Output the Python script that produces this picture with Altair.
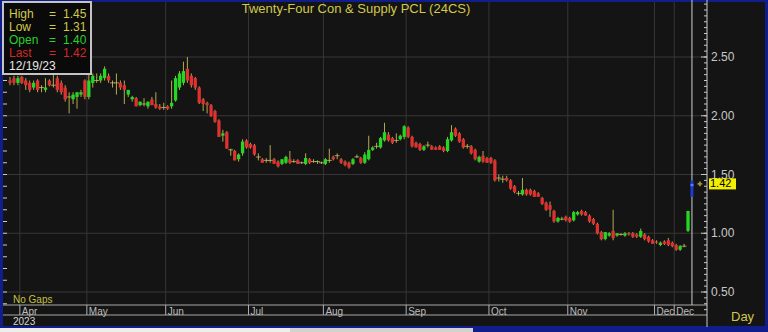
import altair as alt
import pandas as pd

# ---------------- data ----------------
opens = [2.30, 2.32, 2.28, 2.33, 2.30, 2.28, 2.24, 2.30, 2.24, 2.22,
         2.30, 2.26, 2.32, 2.28, 2.24, 2.16, 2.14, 2.16, 2.18, 2.30,
         2.16, 2.28, 2.30, 2.30, 2.32, 2.34, 2.28, 2.28, 2.28, 2.26,
         2.18, 2.14, 2.15, 2.09, 2.10, 2.08, 2.14, 2.10, 2.08, 2.07,
         2.08, 2.08, 2.13, 2.24, 2.28, 2.40, 2.34, 2.32, 2.24, 2.14,
         2.11, 2.09, 2.04, 1.96, 1.83, 1.86, 1.71, 1.70, 1.63, 1.68,
         1.79, 1.76, 1.75, 1.65, 1.63, 1.62, 1.62, 1.63, 1.61, 1.59,
         1.60, 1.63, 1.61, 1.62, 1.60, 1.59, 1.63, 1.61, 1.61, 1.60,
         1.59, 1.62, 1.65, 1.66, 1.63, 1.61, 1.60, 1.59, 1.65, 1.64,
         1.60, 1.63, 1.71, 1.74, 1.73, 1.79, 1.84, 1.81, 1.79, 1.80,
         1.82, 1.90, 1.82, 1.77, 1.76, 1.71, 1.75, 1.74, 1.73, 1.74,
         1.73, 1.70, 1.79, 1.89, 1.85, 1.80, 1.74, 1.74, 1.71, 1.61,
         1.66, 1.64, 1.64, 1.62, 1.47, 1.46, 1.47, 1.45, 1.40, 1.34,
         1.33, 1.37, 1.37, 1.36, 1.34, 1.30, 1.26, 1.24, 1.19, 1.10,
         1.12, 1.14, 1.13, 1.11, 1.16, 1.19, 1.18, 1.15, 1.12, 1.08,
         1.01, 0.95, 0.98, 1.02, 0.98, 0.99, 0.98, 1.00, 1.00, 0.99,
         0.97, 0.99, 0.97, 0.94, 0.93, 0.90, 0.93, 0.94, 0.92, 0.90,
         0.86, 0.89, 1.02, 1.40]
highs = [2.33, 2.34, 2.34, 2.34, 2.32, 2.30, 2.30, 2.31, 2.26, 2.32,
         2.31, 2.38, 2.34, 2.30, 2.26, 2.20, 2.20, 2.20, 2.22, 2.31,
         2.40, 2.36, 2.36, 2.36, 2.42, 2.36, 2.30, 2.36, 2.30, 2.30,
         2.22, 2.17, 2.16, 2.12, 2.15, 2.12, 2.16, 2.20, 2.10, 2.11,
         2.09, 2.30, 2.34, 2.38, 2.46, 2.50, 2.36, 2.33, 2.25, 2.15,
         2.12, 2.10, 2.05, 1.97, 1.88, 1.87, 1.72, 1.71, 1.68, 1.80,
         1.80, 1.77, 1.76, 1.68, 1.64, 1.64, 1.75, 1.64, 1.62, 1.63,
         1.66, 1.70, 1.63, 1.63, 1.61, 1.68, 1.64, 1.63, 1.62, 1.61,
         1.64, 1.72, 1.66, 1.68, 1.64, 1.62, 1.61, 1.64, 1.67, 1.65,
         1.69, 1.83, 1.74, 1.77, 1.82, 1.94, 1.86, 1.82, 1.85, 1.84,
         1.92, 1.91, 1.83, 1.78, 1.77, 1.75, 1.78, 1.75, 1.74, 1.75,
         1.74, 1.82, 1.92, 1.90, 1.86, 1.81, 1.76, 1.75, 1.72, 1.66,
         1.70, 1.65, 1.65, 1.63, 1.50, 1.49, 1.49, 1.46, 1.41, 1.36,
         1.47, 1.38, 1.38, 1.37, 1.35, 1.31, 1.27, 1.27, 1.20, 1.14,
         1.14, 1.15, 1.14, 1.19, 1.19, 1.20, 1.19, 1.16, 1.13, 1.09,
         1.02, 1.01, 1.01, 1.20, 1.00, 1.00, 1.01, 1.01, 1.01, 1.00,
         1.04, 1.00, 0.98, 0.95, 0.94, 0.93, 0.94, 0.96, 0.93, 0.91,
         0.90, 0.91, 1.19, 1.45]
lows = [2.26, 2.26, 2.26, 2.27, 2.22, 2.20, 2.22, 2.20, 2.20, 2.20,
        2.25, 2.24, 2.20, 2.18, 2.12, 2.02, 2.10, 2.06, 2.16, 2.14,
        2.14, 2.24, 2.28, 2.28, 2.30, 2.28, 2.24, 2.18, 2.22, 2.10,
        2.16, 2.12, 2.08, 2.08, 2.08, 2.06, 2.09, 2.06, 2.05, 2.05,
        2.05, 2.06, 2.12, 2.22, 2.26, 2.28, 2.24, 2.22, 2.10, 2.04,
        2.02, 1.99, 1.94, 1.82, 1.78, 1.72, 1.66, 1.62, 1.61, 1.66,
        1.72, 1.72, 1.66, 1.62, 1.60, 1.60, 1.60, 1.59, 1.56, 1.58,
        1.59, 1.59, 1.60, 1.59, 1.59, 1.58, 1.59, 1.60, 1.59, 1.59,
        1.58, 1.60, 1.62, 1.63, 1.59, 1.57, 1.55, 1.58, 1.64, 1.59,
        1.59, 1.62, 1.70, 1.72, 1.72, 1.78, 1.78, 1.76, 1.77, 1.79,
        1.80, 1.81, 1.73, 1.73, 1.70, 1.70, 1.73, 1.71, 1.71, 1.71,
        1.69, 1.69, 1.78, 1.82, 1.77, 1.72, 1.72, 1.67, 1.62, 1.60,
        1.60, 1.60, 1.59, 1.44, 1.44, 1.43, 1.44, 1.37, 1.34, 1.32,
        1.32, 1.32, 1.32, 1.31, 1.31, 1.24, 1.19, 1.14, 1.09, 1.09,
        1.11, 1.10, 1.09, 1.10, 1.15, 1.15, 1.15, 1.09, 1.07, 0.99,
        0.94, 0.94, 0.97, 0.94, 0.97, 0.98, 0.97, 0.98, 0.96, 0.96,
        0.96, 0.94, 0.92, 0.91, 0.91, 0.89, 0.90, 0.89, 0.88, 0.85,
        0.85, 0.88, 1.01, 1.31]
closes = [2.28, 2.28, 2.32, 2.28, 2.26, 2.22, 2.28, 2.22, 2.24, 2.24,
          2.26, 2.26, 2.22, 2.20, 2.14, 2.16, 2.18, 2.20, 2.20, 2.16,
          2.30, 2.34, 2.30, 2.34, 2.40, 2.30, 2.28, 2.28, 2.24, 2.22,
          2.22, 2.16, 2.08, 2.12, 2.10, 2.12, 2.09, 2.07, 2.06, 2.07,
          2.06, 2.11, 2.32, 2.36, 2.38, 2.30, 2.26, 2.24, 2.11, 2.10,
          2.09, 2.00, 1.95, 1.82, 1.85, 1.72, 1.71, 1.62, 1.67, 1.78,
          1.73, 1.73, 1.67, 1.65, 1.60, 1.62, 1.62, 1.59, 1.57, 1.63,
          1.65, 1.60, 1.61, 1.59, 1.60, 1.64, 1.60, 1.61, 1.61, 1.60,
          1.63, 1.62, 1.63, 1.66, 1.60, 1.58, 1.56, 1.63, 1.65, 1.60,
          1.67, 1.71, 1.73, 1.74, 1.81, 1.86, 1.79, 1.77, 1.79, 1.83,
          1.91, 1.82, 1.74, 1.73, 1.71, 1.74, 1.75, 1.71, 1.71, 1.71,
          1.70, 1.80, 1.86, 1.83, 1.78, 1.73, 1.74, 1.68, 1.63, 1.65,
          1.61, 1.60, 1.60, 1.45, 1.47, 1.46, 1.45, 1.38, 1.35, 1.34,
          1.37, 1.33, 1.33, 1.31, 1.31, 1.25, 1.20, 1.20, 1.10, 1.13,
          1.12, 1.11, 1.10, 1.18, 1.18, 1.16, 1.15, 1.10, 1.08, 1.00,
          0.95, 1.01, 1.00, 0.96, 1.00, 0.99, 1.00, 0.99, 0.97, 0.97,
          1.02, 0.95, 0.93, 0.91, 0.92, 0.92, 0.91, 0.90, 0.89, 0.86,
          0.89, 0.89, 1.19, 1.42]

month_names = ["Apr", "May", "Jun", "Jul", "Aug", "Sep", "Oct", "Nov", "Dec", "Dec"]
month_first_bar = [3, 20, 40, 61, 80, 101, 122, 142, 164, 169]
price_ticks = [2.5, 2.0, 1.5, 1.0, 0.5]
price_tick_labels = ["2.50", "2.00", "1.50", "1.00", "0.50"]
last_date = "12/19/23"
year_label = "2023"
chart_title = "Twenty-Four Con & Supply PCL (24CS)"

# ---------------- scales / geometry ----------------
W, H = 768, 332
X0_PX, STEP_PX = 10.0, 3.942
XDOM = [(0 - X0_PX) / STEP_PX, (W - X0_PX) / STEP_PX]
Y_REF_PX, Y_REF_VAL, PX_PER_UNIT = 57.0, 2.5, 117.5
YDOM = [Y_REF_VAL - (H - Y_REF_PX) / PX_PER_UNIT, Y_REF_VAL + Y_REF_PX / PX_PER_UNIT]

xs = alt.Scale(domain=XDOM, nice=False, zero=False, padding=0)
ys = alt.Scale(domain=YDOM, nice=False, zero=False, padding=0)


def X(f):
    return alt.X(f, type="quantitative", scale=xs, axis=None)


def Y(f):
    return alt.Y(f, type="quantitative", scale=ys, axis=None)


def Y2(f):
    return alt.Y2(f)


FONT = "Liberation Sans"
BG = "#141414"
GRID = "#363636"
AXIS = "#c8c8c8"
KHAKI = "#d2c84a"
GREEN = "#22d822"
RED = "#e03030"
TAN = "#b4aa52"
DOJI = "#d6cc66"

n = len(closes)
df = pd.DataFrame({"i": list(range(n)), "open": opens, "high": highs,
                   "low": lows, "close": closes})
df["dir"] = ["up" if c > o else ("down" if c < o else "flat")
             for o, c in zip(df["open"], df["close"])]
main = df.iloc[:-1]
last = df.iloc[-1:].copy()
doji = main[main["dir"] == "flat"]

months = pd.DataFrame({"name": month_names, "first": month_first_bar})
pt = pd.DataFrame({"v": price_ticks, "lab": price_tick_labels})
minor = pd.DataFrame({"v": [round(0.35 + 0.05 * k, 2) for k in range(53)]})
leftt = pd.DataFrame({"v": [round(0.4 + 0.1 * k, 1) for k in range(26)]})
one = pd.DataFrame({"a": [0]})

layers = []

# frame / background panels
layers.append(alt.Chart(one).mark_rect(color=BG).encode(
    x=alt.value(3), x2=alt.value(765), y=alt.value(2), y2=alt.value(326)))
layers.append(alt.Chart(one).mark_rect(color="#eeeeee").encode(
    x=alt.value(0), x2=alt.value(290), y=alt.value(328), y2=alt.value(332)))
layers.append(alt.Chart(one).mark_rect(color="#d2d2d2").encode(
    x=alt.value(290), x2=alt.value(473), y=alt.value(328), y2=alt.value(332)))

# grid
layers.append(alt.Chart(pt).mark_rule(color=GRID, strokeWidth=1).encode(
    x=alt.value(3), x2=alt.value(706), y=Y("v")))
layers.append(alt.Chart(months).transform_calculate(sep="datum.first - 0.5")
              .mark_rule(color=GRID, strokeWidth=1).encode(
    x=X("sep"), y=alt.value(2), y2=alt.value(305)))

# date band
for yy in (305, 315):
    layers.append(alt.Chart(one).mark_rule(color="#a8a8a8", strokeWidth=1).encode(
        x=alt.value(3), x2=alt.value(707), y=alt.value(yy)))
layers.append(alt.Chart(months).transform_calculate(sep="datum.first - 0.5")
              .mark_rule(color="#b0b0b0", strokeWidth=1).encode(
    x=X("sep"), y=alt.value(305), y2=alt.value(315)))
layers.append(alt.Chart(months).transform_calculate(sep="datum.first - 0.5")
              .mark_text(align="left", baseline="alphabetic", dx=2, font=FONT,
                         fontSize=10, color="#bdbdbd").encode(
    x=X("sep"), y=alt.value(315), text="name:N"))
layers.append(alt.Chart(one).mark_text(text=year_label, align="left", baseline="alphabetic",
                                       font=FONT, fontSize=10, color="#d8d8d8").encode(
    x=alt.value(13), y=alt.value(325)))

# right axis
layers.append(alt.Chart(one).mark_rule(color=AXIS, strokeWidth=1).encode(
    x=alt.value(707), y=alt.value(0), y2=alt.value(327)))
layers.append(alt.Chart(minor).mark_rule(color=AXIS, strokeWidth=1).encode(
    x=alt.value(704), x2=alt.value(707), y=Y("v")))
layers.append(alt.Chart(pt).mark_rule(color=AXIS, strokeWidth=1).encode(
    x=alt.value(701), x2=alt.value(707), y=Y("v")))
layers.append(alt.Chart(leftt).mark_rule(color=AXIS, strokeWidth=1).encode(
    x=alt.value(3), x2=alt.value(7), y=Y("v")))
layers.append(alt.Chart(pt).mark_text(align="left", baseline="middle", font=FONT,
                                      fontSize=12, color=AXIS).encode(
    x=alt.value(711), y=Y("v"), text="lab:N"))

# cursor line on last bar
layers.append(alt.Chart(last).mark_rule(color="#cfcfcf", strokeWidth=1).encode(
    x=X("i"), y=alt.value(0), y2=alt.value(305)))

# candles
cscale = alt.Scale(domain=["up", "down", "flat"], range=[GREEN, RED, DOJI])
layers.append(alt.Chart(main).mark_rule(color=TAN, strokeWidth=1).encode(
    x=X("i"), y=Y("low"), y2=Y2("high")))
layers.append(alt.Chart(main).mark_bar(size=3.3).encode(
    x=X("i"), y=Y("open"), y2=Y2("close"),
    color=alt.Color("dir:N", scale=cscale, legend=None)))
layers.append(alt.Chart(doji).mark_tick(orient="horizontal", size=5, thickness=1,
                                        color=DOJI).encode(
    x=X("i"), y=Y("close")))

# last (highlighted) bar
layers.append(alt.Chart(last).mark_rule(color="#1e3cc8", strokeWidth=3).encode(
    x=X("i"), y=Y("low"), y2=Y2("high")))
layers.append(alt.Chart(last).mark_bar(size=3, color="#5a78ff").encode(
    x=X("i"), y=Y("open"), y2=Y2("close")))
layers.append(alt.Chart(last).transform_calculate(cx="datum.i + 2")
              .mark_point(shape="cross", filled=True, size=22, color=KHAKI).encode(
    x=X("cx"), y=Y("close")))

# last price tag
layers.append(alt.Chart(last).transform_calculate(
    t="datum.close + 0.047", b="datum.close - 0.047")
    .mark_rect(color="#f2f000").encode(
    x=alt.value(709), x2=alt.value(736), y=Y("t"), y2=Y2("b")))
layers.append(alt.Chart(last).transform_calculate(lab="format(datum.close, '.2f')")
              .mark_text(align="left", baseline="middle", font=FONT, fontSize=11,
                         color="#000000").encode(
    x=alt.value(710), y=Y("close"), text="lab:N"))

# OHLC info box
layers.append(alt.Chart(one).mark_rect(color="#0a0a0a", stroke="#c4c4c4",
                                       strokeWidth=2).encode(
    x=alt.value(3), x2=alt.value(91), y=alt.value(2), y2=alt.value(74)))
info = [("High", highs[-1], KHAKI, 18),
        ("Low", lows[-1], KHAKI, 31),
        ("Open", opens[-1], "#2ad02a", 44),
        ("Last", closes[-1], "#d42828", 57)]
for name, val, col, yy in info:
    layers.append(alt.Chart(one).mark_text(text=name, align="left", baseline="alphabetic",
                                           font=FONT, fontSize=12, color=col).encode(
        x=alt.value(9), y=alt.value(yy)))
    layers.append(alt.Chart(one).mark_text(text="=", align="left", baseline="alphabetic",
                                           font=FONT, fontSize=12, color=col).encode(
        x=alt.value(49), y=alt.value(yy)))
    layers.append(alt.Chart(one).mark_text(text=f"{val:.2f}", align="left",
                                           baseline="alphabetic", font=FONT, fontSize=12,
                                           color=col).encode(
        x=alt.value(63), y=alt.value(yy)))
layers.append(alt.Chart(one).mark_text(text=last_date, align="left", baseline="alphabetic",
                                       font=FONT, fontSize=12, color="#e6e6e6").encode(
    x=alt.value(9), y=alt.value(70)))

# titles / captions
layers.append(alt.Chart(one).mark_text(text=chart_title, align="center",
                                       baseline="alphabetic", font=FONT, fontSize=13,
                                       color=KHAKI).encode(
    x=alt.value(356), y=alt.value(13)))
layers.append(alt.Chart(one).mark_text(text="No Gaps", align="left", baseline="alphabetic",
                                       font=FONT, fontSize=10, color="#c8c040").encode(
    x=alt.value(13), y=alt.value(303)))
layers.append(alt.Chart(one).mark_text(text="Day", align="left", baseline="alphabetic",
                                       font=FONT, fontSize=13, color=KHAKI).encode(
    x=alt.value(731), y=alt.value(321)))

chart = alt.layer(*layers).properties(
    width=W, height=H, padding=0, background="#0f1e8a",
    autosize=alt.AutoSizeParams(type="none"),
).configure_view(stroke=None, fill=None)

chart.save("out.html", embed_options={"renderer": "svg", "actions": False})
